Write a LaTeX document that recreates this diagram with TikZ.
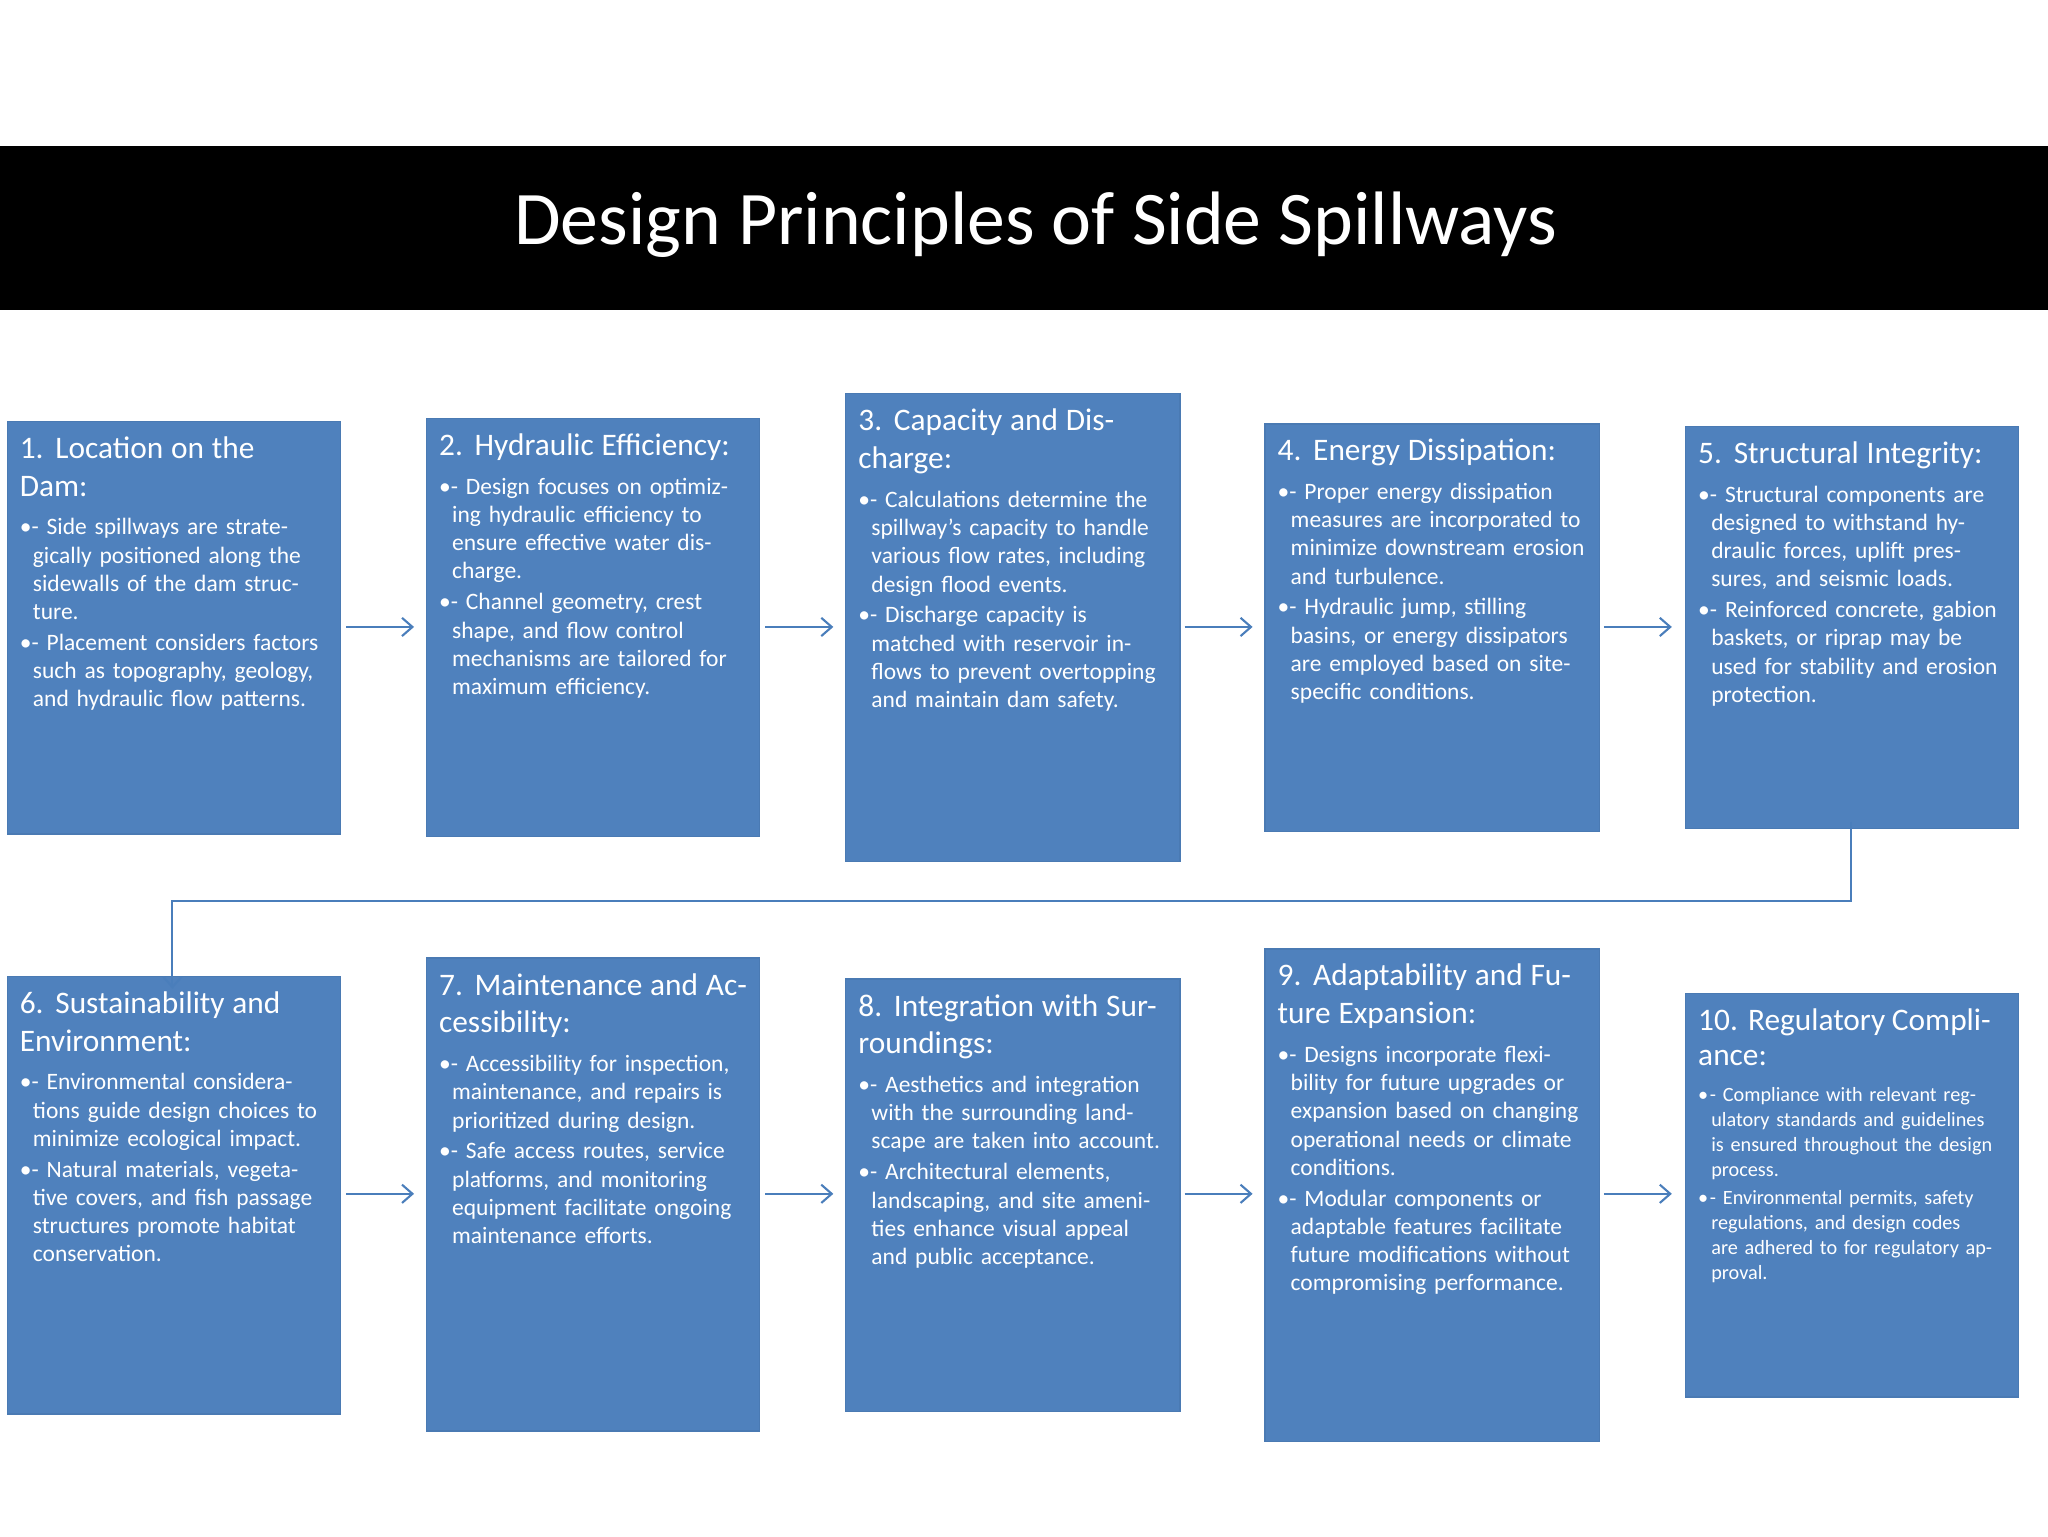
\documentclass[tikz,border=0pt]{standalone}
\usepackage{fontspec}
\setmainfont{Carlito}
\usetikzlibrary{arrows.meta}
\definecolor{boxblue}{HTML}{4F81BD}
\definecolor{boxedge}{HTML}{4A7AB3}
\definecolor{arr}{HTML}{4A7EBB}
\newcommand{\hd}[1]{{\fontsize{24}{29}\selectfont #1\par}\vspace{8pt}}
\newcommand{\bl}[1]{{\hangindent=10pt\hangafter=1\noindent\makebox[9pt][l]{•}-~#1\par}\vspace{2pt}}
\tikzset{
 panel/.style={draw=boxedge,fill=boxblue,line width=1pt,anchor=north west,inner sep=0},
 ptext/.style={anchor=north west,text=white,text width=236pt,align=left,inner sep=0,font=\fontsize{18}{21.6}\selectfont},
 ptextsm/.style={ptext,font=\fontsize{15.5}{19.2}\selectfont},
 flow/.style={draw=arr,line width=1.6pt,-{Straight Barb[length=8pt,width=14pt]}}
}
\begin{document}
\begin{tikzpicture}[x=1pt,y=-1pt]
\useasboundingbox (0,0) rectangle (1568,1176);
\fill[white] (0,0) rectangle (1568,1176);
\fill[black] (0,112) rectangle (1568,237);
\node[text=white,font=\fontsize{58}{64}\selectfont] (title) at (793,172) {Design Principles of Side Spillways};
% row 1
\node[panel,minimum width=255pt,minimum height=316pt] (b1) at (5,322) {};
\node[panel,minimum width=255pt,minimum height=320pt] (b2) at (326,320) {};
\node[panel,minimum width=256pt,minimum height=358pt] (b3) at (647,301) {};
\node[panel,minimum width=256pt,minimum height=312pt] (b4) at (968,324) {};
\node[panel,minimum width=255pt,minimum height=308pt] (b5) at (1290,326) {};
% row 2
\node[panel,minimum width=255pt,minimum height=335pt] (b6) at (5,747) {};
\node[panel,minimum width=255pt,minimum height=362pt] (b7) at (326,733) {};
\node[panel,minimum width=256pt,minimum height=331pt] (b8) at (647,749) {};
\node[panel,minimum width=256pt,minimum height=377pt] (b9) at (968,726) {};
\node[panel,minimum width=255pt,minimum height=309pt] (b10) at (1290,760) {};
% texts
\node[ptext] (t1) at ([shift={(10,12)}]b1.north west) {\hd{1. Location on the Dam:}\bl{Side spillways are strategically positioned along the sidewalls of the dam structure.}\bl{Placement considers factors such as topography, geology, and hydraulic flow patterns.}};
\node[ptext] (t2) at ([shift={(10,12)}]b2.north west) {\hd{2. Hydraulic Efficiency:}\bl{Design focuses on optimizing hydraulic efficiency to ensure effective water discharge.}\bl{Channel geometry, crest shape, and flow control mechanisms are tailored for maximum efficiency.}};
\node[ptext] (t3) at ([shift={(10,12)}]b3.north west) {\hd{3. Capacity and Discharge:}\bl{Calculations determine the spillway's capacity to handle various flow rates, including design flood events.}\bl{Discharge capacity is matched with reservoir inflows to prevent overtopping and maintain dam safety.}};
\node[ptext] (t4) at ([shift={(10,12)}]b4.north west) {\hd{4. Energy Dissipation:}\bl{Proper energy dissipation measures are incorporated to minimize downstream erosion and turbulence.}\bl{Hydraulic jump, stilling basins, or energy dissipators are employed based on site-specific conditions.}};
\node[ptext] (t5) at ([shift={(10,12)}]b5.north west) {\hd{5. Structural Integrity:}\bl{Structural components are designed to withstand hydraulic forces, uplift pressures, and seismic loads.}\bl{Reinforced concrete, gabion baskets, or riprap may be used for stability and erosion protection.}};
\node[ptext] (t6) at ([shift={(10,12)}]b6.north west) {\hd{6. Sustainability and Environment:}\bl{Environmental considerations guide design choices to minimize ecological impact.}\bl{Natural materials, vegetative covers, and fish passage structures promote habitat conservation.}};
\node[ptext] (t7) at ([shift={(10,12)}]b7.north west) {\hd{7. Maintenance and Accessibility:}\bl{Accessibility for inspection, maintenance, and repairs is prioritized during design.}\bl{Safe access routes, service platforms, and monitoring equipment facilitate ongoing maintenance efforts.}};
\node[ptext] (t8) at ([shift={(10,12)}]b8.north west) {\hd{8. Integration with Surroundings:}\bl{Aesthetics and integration with the surrounding landscape are taken into account.}\bl{Architectural elements, landscaping, and site amenities enhance visual appeal and public acceptance.}};
\node[ptext] (t9) at ([shift={(10,12)}]b9.north west) {\hd{9. Adaptability and Future Expansion:}\bl{Designs incorporate flexibility for future upgrades or expansion based on changing operational needs or climate conditions.}\bl{Modular components or adaptable features facilitate future modifications without compromising performance.}};
\node[ptextsm] (t10) at ([shift={(10,12)}]b10.north west) {{\fontsize{24}{27}\selectfont 10. Regulatory Compliance:\par}\vspace{8pt}\bl{Compliance with relevant regulatory standards and guidelines is ensured throughout the design process.}\bl{Environmental permits, safety regulations, and design codes are adhered to for regulatory approval.}};
% arrows row 1
\coordinate (a1s) at (265,480); \coordinate (a1e) at (317,480);
\draw[flow] (a1s) -- (a1e);
\draw[flow] (586,480) coordinate (a2s) -- (638,480) coordinate (a2e);
\draw[flow] (907,480) coordinate (a3s) -- (959,480) coordinate (a3e);
\draw[flow] (1228,480) coordinate (a4s) -- (1280,480) coordinate (a4e);
% row 2
\draw[flow] (265,914) coordinate (c1s) -- (317,914) coordinate (c1e);
\draw[flow] (586,914) coordinate (c2s) -- (638,914) coordinate (c2e);
\draw[flow] (907,914) coordinate (c3s) -- (959,914) coordinate (c3e);
\draw[flow] (1228,914) coordinate (c4s) -- (1280,914) coordinate (c4e);
% connector 5 -> 6
\draw[flow] ([yshift=6]b5.south -| 1417,0) -- (1417,690) -- (132,690) -- ([yshift=-10]b6.north -| 132,0);
\end{tikzpicture}
\end{document}
